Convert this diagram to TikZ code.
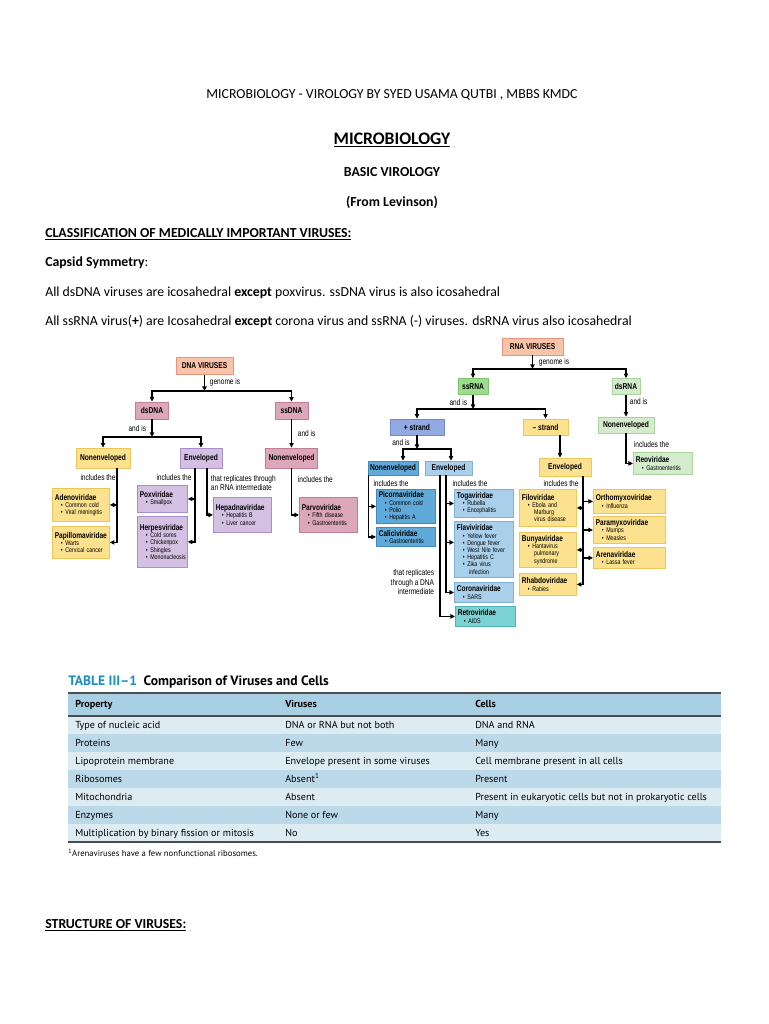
\documentclass[tikz,border=0pt]{standalone}
\usepackage{fontspec}
\setmainfont{Carlito}
\newfontfamily\diagfont[FakeStretch=0.78]{Liberation Sans}
\newfontfamily\tabfont{PT Sans}
\usetikzlibrary{arrows.meta,positioning,calc}
\definecolor{salmonF}{HTML}{F9C3A9}\definecolor{salmonD}{HTML}{E59579}
\definecolor{mauveF}{HTML}{DDA7BA}\definecolor{mauveD}{HTML}{C27D96}
\definecolor{yelF}{HTML}{FCE28F}\definecolor{yelD}{HTML}{EDC65A}
\definecolor{lilacF}{HTML}{D3C0E3}\definecolor{lilacD}{HTML}{A98FC7}
\definecolor{leafF}{HTML}{9DDB8F}\definecolor{leafD}{HTML}{7EC470}
\definecolor{mintF}{HTML}{D4ECCD}\definecolor{mintD}{HTML}{A8D49A}
\definecolor{plusF}{HTML}{93A9E4}\definecolor{plusD}{HTML}{7189D0}
\definecolor{skyF}{HTML}{5FAAD8}\definecolor{skyD}{HTML}{3D8AC0}
\definecolor{iceF}{HTML}{A9CFEB}\definecolor{iceD}{HTML}{7FB1D8}
\definecolor{tealF}{HTML}{7DD3D3}\definecolor{tealD}{HTML}{4DB5B5}
\definecolor{tabHead}{HTML}{A8CFE4}\definecolor{rowD}{HTML}{BCD9EA}\definecolor{rowL}{HTML}{DDEBF3}
\definecolor{tabTitle}{HTML}{1C8DBF}
\newcommand{\famname}[1]{\mbox{\fontsize{6.3}{6.8}\selectfont\bfseries #1}}
\newcommand{\vit}[1]{\\\hspace*{4.5pt}\mbox{\textbullet\hspace{2pt}#1}}
\newcommand{\vcont}[1]{\\\hspace*{9.3pt}\mbox{#1}}

\begin{document}
\begin{tikzpicture}[x=0.75pt,y=-0.75pt,>={Triangle[length=3.4pt,width=3.2pt]},
  vbox/.style={draw,line width=0.6pt,inner sep=1pt,font=\diagfont\fontsize{6.4}{7.4}\selectfont\bfseries},
  sz/.style 2 args={minimum width=#1*0.75pt,minimum height=#2*0.75pt},
  fam/.style 2 args={draw,line width=0.6pt,anchor=north west,align=left,inner sep=1.8pt,text width=#1*0.75pt-3.6pt,minimum height=#2*0.75pt,font=\diagfont\fontsize{5.1}{5.4}\selectfont},
  lbl/.style={inner sep=0.5pt,font=\diagfont\fontsize{6.3}{7}\selectfont},
  link/.style={->,line width=0.9pt},
  body/.style={inner sep=0pt,font=\fontsize{10.35}{12}\selectfont},
  tabtxt/.style={anchor=base west,inner sep=0pt,font=\tabfont\fontsize{7.6}{8.5}\selectfont},
  salmon/.style={fill=salmonF,draw=salmonD},mauve/.style={fill=mauveF,draw=mauveD},
  yel/.style={fill=yelF,draw=yelD},lilac/.style={fill=lilacF,draw=lilacD},
  leaf/.style={fill=leafF,draw=leafD},mint/.style={fill=mintF,draw=mintD},
  plus/.style={fill=plusF,draw=plusD},sky/.style={fill=skyF,draw=skyD},
  ice/.style={fill=iceF,draw=iceD},teal/.style={fill=tealF,draw=tealD}]
\useasboundingbox (0,0) rectangle (768,1024);
\fill[white] (0,0) rectangle (768,1024);

\node[body] (hdr) at (392,95) {MICROBIOLOGY - VIROLOGY BY SYED USAMA QUTBI , MBBS KMDC};
\node[body,font=\fontsize{13.2}{15}\selectfont\bfseries] (ttl) at (392,140) {\underline{MICROBIOLOGY}};
\node[body,font=\fontsize{10.35}{12}\selectfont\bfseries] (sub) at (392,172) {BASIC VIROLOGY};
\node[body,font=\fontsize{10.35}{12}\selectfont\bfseries] (src) at (392,202) {(From Levinson)};
\node[body,anchor=west,font=\fontsize{10.35}{12}\selectfont\bfseries] (cls) at (45,234) {\underline{CLASSIFICATION OF MEDICALLY IMPORTANT VIRUSES:}};
\node[body,anchor=west] (cap) at (45,263) {\textbf{Capsid Symmetry}:};
\node[body,anchor=west] (ln1) at (45,293) {All dsDNA viruses are icosahedral \textbf{except} poxvirus. ssDNA virus is also icosahedral};
\node[body,anchor=west] (ln2) at (45,322) {All ssRNA virus(\textbf{+}) are Icosahedral \textbf{except} corona virus and ssRNA (-) viruses. dsRNA virus also icosahedral};
\node[body,anchor=west,font=\fontsize{10.35}{12}\selectfont\bfseries] (strc) at (45,925) {\underline{STRUCTURE OF VIRUSES:}};

\node[vbox,salmon,sz={57}{17}] (dna) at (204.5,366) {DNA VIRUSES};
\node[vbox,mauve,sz={33}{17}] (dsdna) at (152,410.5) {dsDNA};
\node[vbox,mauve,sz={33}{17}] (ssdna) at (291.5,410.5) {ssDNA};
\node[vbox,yel,sz={54}{20}] (nonA) at (103,458) {Nonenveloped};
\node[vbox,lilac,sz={42}{20}] (envA) at (201,458) {Enveloped};
\node[vbox,mauve,sz={52}{20}] (nonB) at (291.5,458) {Nonenveloped};
\node[fam={57}{33},yel] (adeno) at (52,488) {\famname{Adenoviridae}\vit{Common cold}\vit{Viral meningitis}};
\node[fam={57}{32},yel] (papillo) at (52,526) {\famname{Papillomaviridae}\vit{Warts}\vit{Cervical cancer}};
\node[fam={50}{27},lilac] (pox) at (137,485) {\famname{Poxviridae}\vit{Smallpox}};
\node[fam={50}{51},lilac] (herpes) at (137,516) {\famname{Herpesviridae}\vit{Cold sores}\vit{Chickenpox}\vit{Shingles}\vit{Mononucleosis}};
\node[fam={58}{35},lilac] (hepadna) at (213,497) {\famname{Hepadnaviridae}\vit{Hepatitis B}\vit{Liver cancer}};
\node[fam={58}{35},mauve] (parvo) at (299,497) {\famname{Parvoviridae}\vit{Fifth disease}\vit{Gastroenteritis}};
\node[lbl,anchor=west] (gA) at (209,382) {genome is};
\node[lbl,anchor=east] (aA) at (147,428) {and is};
\node[lbl,anchor=west] (aB) at (297,433) {and is};
\node[lbl] (iA) at (98,477) {includes the};
\node[lbl] (iB) at (174,477) {includes the};
\node[lbl,anchor=west,align=left] (rA) at (210,483) {that replicates through\\an RNA intermediate};
\node[lbl,anchor=west] (iC) at (297,479) {includes the};
\coordinate (dnabar) at (204.5,391);
\coordinate (dsbar) at (152,437);
\draw[link] (dna) -- (dnabar);
\draw[link] (dnabar) -| (dsdna);
\draw[link] (dnabar) -| (ssdna);
\draw[link] (dsdna) -- (dsbar);
\draw[link] (dsbar) -| (nonA);
\draw[link] (dsbar) -| (envA);
\draw[link] (ssdna) -- (nonB);
\draw[link] ($(nonA.south)+(14,0)$) |- (adeno);
\draw[link] ($(nonA.south)+(14,0)$) |- (papillo);
\draw[link] ($(envA.south)+(-6,0)$) |- (pox);
\draw[link] ($(envA.south)+(-6,0)$) |- (herpes);
\draw[link] ($(envA.south)+(6,0)$) |- (hepadna);
\draw[link] (nonB) |- (parvo);

\node[vbox,salmon,sz={61}{17}] (rna) at (532.5,346.5) {RNA VIRUSES};
\node[vbox,leaf,sz={30}{16}] (ssrna) at (473,386.5) {ssRNA};
\node[vbox,mint,sz={28}{16}] (dsrna) at (626,386.5) {dsRNA};
\node[vbox,plus,sz={54}{16}] (plus) at (417,427) {+ strand};
\node[vbox,yel,sz={45}{16}] (minus) at (545.5,427) {\textendash\ strand};
\node[vbox,sky,sz={50}{14}] (nonC) at (393,468) {Nonenveloped};
\node[vbox,ice,sz={47}{14}] (envC) at (448.5,468) {Enveloped};
\node[vbox,yel,sz={52}{18}] (envD) at (565,467) {Enveloped};
\node[vbox,mint,sz={56}{16}] (nonD) at (626,425) {Nonenveloped};
\node[fam={59}{34},sky] (picorna) at (376,489) {\famname{Picornaviridae}\vit{Common cold}\vit{Polio}\vit{Hepatitis A}};
\node[fam={59}{19},sky] (calici) at (376,527) {\famname{Caliciviridae}\vit{Gastroenteritis}};
\node[fam={59}{28},ice] (toga) at (454,489) {\famname{Togaviridae}\vit{Rubella}\vit{Encephalitis}};
\node[fam={59}{56},ice] (flavi) at (454,521) {\famname{Flaviviridae}\vit{Yellow fever}\vit{Dengue fever}\vit{West Nile fever}\vit{Hepatitis C}\vit{Zika virus}\vcont{infection}};
\node[fam={59}{20},ice] (corona) at (454,582) {\famname{Coronaviridae}\vit{SARS}};
\node[fam={60}{20},teal] (retro) at (455,606) {\famname{Retroviridae}\vit{AIDS}};
\node[fam={57}{37},yel] (filo) at (519,489) {\famname{Filoviridae}\vit{Ebola and}\vcont{Marburg}\vcont{virus disease}};
\node[fam={57}{35},yel] (bunya) at (519,532) {\famname{Bunyaviridae}\vit{Hantavirus}\vcont{pulmonary}\vcont{syndrome}};
\node[fam={57}{22},yel] (rhabdo) at (519,573) {\famname{Rhabdoviridae}\vit{Rabies}};
\node[fam={72}{24},yel] (ortho) at (593,489) {\famname{Orthomyxoviridae}\vit{Influenza}};
\node[fam={72}{27},yel] (paramyxo) at (593,516) {\famname{Paramyxoviridae}\vit{Mumps}\vit{Measles}};
\node[fam={72}{21},yel] (arena) at (593,547) {\famname{Arenaviridae}\vit{Lassa fever}};
\node[fam={59}{22},mint] (reo) at (633,452) {\famname{Reoviridae}\vit{Gastroenteritis}};
\node[lbl,anchor=west] (gB) at (538,362) {genome is};
\node[lbl,anchor=east] (aC) at (468,402) {and is};
\node[lbl] (aD) at (401,442) {and is};
\node[lbl,anchor=west] (aE) at (629,401) {and is};
\node[lbl] (iD) at (391,483) {includes the};
\node[lbl] (iE) at (470,483) {includes the};
\node[lbl] (iF) at (561,483) {includes the};
\node[lbl,anchor=west] (iG) at (633,444) {includes the};
\node[lbl,anchor=east,align=right] (rB) at (435,582) {that replicates\\through a DNA\\intermediate};
\coordinate (rnabar) at (532.5,369);
\coordinate (ssbar) at (473,409);
\coordinate (plusbar) at (417,449);
\coordinate (mstem) at ($(minus.south)+(14.5,0)$);
\draw[link] (rna) -- (rnabar);
\draw[link] (rnabar) -| (ssrna);
\draw[link] (rnabar) -| (dsrna);
\draw[link] (ssrna) -- (ssbar);
\draw[link] (ssbar) -| (plus);
\draw[link] (ssbar) -| (minus);
\draw[link] (plus) -- (plusbar);
\draw[link] (plusbar) -| ($(nonC.north)+(10,0)$);
\draw[link] (plusbar) -| ($(envC.north)+(2.5,0)$);
\draw[link,line width=1.2pt] (mstem) -- (mstem |- envD.north);
\draw[link] (dsrna) -- (nonD);
\draw[link] (nonD) |- (reo);
\draw[link] ($(nonC.south west)+(1,0)$) |- (picorna);
\draw[link] ($(nonC.south west)+(1,0)$) |- (calici);
\draw[link] ($(envC.south)+(-2.5,0)$) |- (toga);
\draw[link] ($(envC.south)+(-2.5,0)$) |- ($(flavi.west)+(0,-7)$);
\draw[link] ($(envC.south)+(-2.5,0)$) |- (corona);
\draw[link] ($(envC.south)+(-8.5,0)$) |- (retro);
\foreach \f in {filo,bunya,rhabdo,ortho,paramyxo,arena}
  \draw[link] ($(envD.south)+(18,0)$) |- (\f);

\node[anchor=west,inner sep=0pt,font=\tabfont\fontsize{10.2}{11}\selectfont\bfseries] (tabttl) at (68,682) {\textcolor{tabTitle}{TABLE III\textendash1}\hspace{5pt}Comparison of Viruses and Cells};
\fill[tabHead] (68,693) rectangle (721,716);
\node[tabtxt,font=\tabfont\fontsize{7.6}{8.5}\selectfont\bfseries] (hP) at (75,707.5) {Property};
\node[tabtxt,font=\tabfont\fontsize{7.6}{8.5}\selectfont\bfseries] (hV) at (285,707.5) {Viruses};
\node[tabtxt,font=\tabfont\fontsize{7.6}{8.5}\selectfont\bfseries] (hC) at (475,707.5) {Cells};
\foreach [count=\i] \p/\v/\c in {Type of nucleic acid/DNA or RNA but not both/DNA and RNA,
  Proteins/Few/Many,
  Lipoprotein membrane/Envelope present in some viruses/Cell membrane present in all cells,
  Ribosomes/Absent\textsuperscript{1}/Present,
  Mitochondria/Absent/Present in eukaryotic cells but not in prokaryotic cells,
  Enzymes/None or few/Many,
  Multiplication by binary fission or mitosis/No/Yes}{
  \ifodd\i\def\rc{rowL}\else\def\rc{rowD}\fi
  \fill[\rc] (68,698+18*\i) rectangle (721,716+18*\i);
  \draw[white,line width=0.4pt] (68,716+18*\i) -- (721,716+18*\i);
  \node[tabtxt] (p\i) at (75,710+18*\i) {\p};
  \node[tabtxt] (v\i) at (285,710+18*\i) {\v};
  \node[tabtxt] (c\i) at (475,710+18*\i) {\c};
}
\draw[black!70,line width=1pt] (68,693) -- (721,693);
\draw[black!70,line width=1pt] (68,716) -- (721,716);
\draw[black!70,line width=1pt] (68,842) -- (721,842);
\node[anchor=west,inner sep=0pt,font=\tabfont\fontsize{6.5}{7.5}\selectfont] (fnote) at (68,853) {\textsuperscript{1}Arenaviruses have a few nonfunctional ribosomes.};
\end{tikzpicture}
\end{document}
